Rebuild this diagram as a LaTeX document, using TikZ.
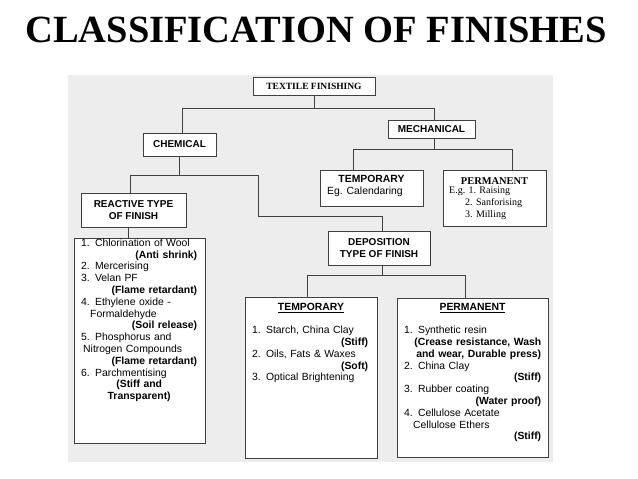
\documentclass[tikz,border=0pt]{standalone}
\usepackage{fontspec}
\setmainfont{Liberation Serif}
\setsansfont{Liberation Sans}
\begin{document}
\begin{tikzpicture}[x=1pt,y=-1pt,
  bx/.style={draw=black!75,line width=0.8pt,fill=white,inner sep=0pt},
  ln/.style={draw=black!75,line width=0.8pt},
  tx/.style={font=\sffamily\fontsize{10.4}{11.8}\selectfont,inner sep=0pt,align=left},
  sx/.style={font=\fontsize{10}{11.8}\selectfont,inner sep=0pt,align=left}]
\useasboundingbox (0,0) rectangle (638,479);
\fill[white] (0,0) rectangle (638,479);
\fill[black!7] (68,75) rectangle (553,462);
\node[font=\bfseries\fontsize{38.5}{40}\selectfont] (title) at (316,30) {CLASSIFICATION OF FINISHES};
% boxes
\node[bx,minimum width=122pt,minimum height=18pt,font=\bfseries\fontsize{9.5}{10}\selectfont] (tf) at (314,86) {TEXTILE FINISHING};
\node[bx,minimum width=73pt,minimum height=23pt,font=\sffamily\bfseries\fontsize{10}{10}\selectfont] (chem) at (179.5,144.5) {CHEMICAL};
\node[bx,minimum width=87pt,minimum height=18pt,font=\sffamily\bfseries\fontsize{10}{10}\selectfont] (mech) at (431.5,129) {MECHANICAL};
\node[bx,minimum width=103pt,minimum height=36pt] (mt) at (371.5,188) {};
\node[bx,minimum width=103pt,minimum height=56pt] (mp) at (494.5,198) {};
\node[bx,minimum width=105pt,minimum height=34pt,font=\sffamily\bfseries\fontsize{10}{12}\selectfont,align=center] (rt) at (133.5,210) {REACTIVE TYPE\\OF FINISH};
\node[bx,minimum width=102pt,minimum height=34pt,font=\sffamily\bfseries\fontsize{10}{12}\selectfont,align=center] (dep) at (379,248) {DEPOSITION\\TYPE OF FINISH};
\node[bx,minimum width=131pt,minimum height=205pt] (rl) at (139.5,340.5) {};
\node[bx,minimum width=132pt,minimum height=161pt] (dt) at (311,377.5) {};
\node[bx,minimum width=151pt,minimum height=159pt] (dp) at (472.5,377.5) {};
% connectors
\draw[ln] (tf.south) -- (314,108) coordinate (j1);
\draw[ln] (182,108) -- (434,108);
\draw[ln] (182,108) -- (chem.north -| 182,0);
\draw[ln] (434,108) -- (mech.north -| 434,0);
\draw[ln] (mech.south -| 434,0) -- (434,149);
\draw[ln] (353,149) -- (512,149);
\draw[ln] (353,149) -- (mt.north -| 353,0);
\draw[ln] (512,149) -- (mp.north -| 512,0);
\draw[ln] (chem.south -| 179,0) -- (179,175);
\draw[ln] (130,175) -- (258,175) -- (258,216) -- (382,216) -- (dep.north -| 382,0);
\draw[ln] (130,175) -- (rt.north -| 130,0);
\draw[ln] (rt.south -| 128,0) -- (rl.north -| 128,0);
\draw[ln] (dep.south -| 382,0) -- (382,275);
\draw[ln] (307,275) -- (465,275);
\draw[ln] (307,275) -- (dt.north -| 307,0);
\draw[ln] (465,275) -- (dp.north -| 465,0);
% mech texts
\node[font=\sffamily\bfseries\fontsize{10.4}{11}\selectfont,inner sep=0pt] (mtt) at (371.5,179) {TEMPORARY};
\node[tx,anchor=west] (mtx) at (327,192) {Eg. Calendaring};
\node[font=\bfseries\fontsize{10.4}{11}\selectfont,inner sep=0pt] (mpt) at (494.5,181) {PERMANENT};
\node[sx,anchor=north west] (mpx) at (449,187) {E.g. 1. Raising\\\hspace*{16pt}2. Sanforising\\\hspace*{16pt}3. Milling};
% reactive list
\node[tx,anchor=north west,text width=116pt] (rlx) at (81,238.5) {1. Chlorination of Wool\\
\mbox{}\hfill\textbf{(Anti shrink)}\\
2. Mercerising\\
3. Velan PF\\
\mbox{}\hfill\textbf{(Flame retardant)}\\
4. Ethylene oxide -\\
\hspace*{9pt}Formaldehyde\\
\mbox{}\hfill\textbf{(Soil release)}\\
5. Phosphorus and\\
\hspace*{2pt}Nitrogen Compounds\\
\mbox{}\hfill\textbf{(Flame retardant)}\\
6. Parchmentising\\
\mbox{}\hfill\textbf{(Stiff and}\hfill\mbox{}\\
\mbox{}\hfill\textbf{Transparent)}\hfill\mbox{}};
% deposition temporary
\node[font=\sffamily\bfseries\fontsize{10.4}{11}\selectfont,inner sep=0pt] (dtt) at (311,308) {\underline{TEMPORARY}};
\node[tx,anchor=north west,text width=116pt] (dtx) at (252,326) {1. Starch, China Clay\\
\mbox{}\hfill\textbf{(Stiff)}\\
2. Oils, Fats \& Waxes\\
\mbox{}\hfill\textbf{(Soft)}\\
3. Optical Brightening};
% deposition permanent
\node[font=\sffamily\bfseries\fontsize{10.4}{11}\selectfont,inner sep=0pt] (dpt) at (472.5,308) {\underline{PERMANENT}};
\node[tx,anchor=north west,text width=137pt] (dpx) at (404,326) {1. Synthetic resin\\
\mbox{}\hfill\textbf{(Crease resistance, Wash}\\
\mbox{}\hfill\textbf{and wear, Durable press)}\\
2. China Clay\\
\mbox{}\hfill\textbf{(Stiff)}\\
3. Rubber coating\\
\mbox{}\hfill\textbf{(Water proof)}\\
4. Cellulose Acetate\\
\hspace*{9pt}Cellulose Ethers\\
\mbox{}\hfill\textbf{(Stiff)}};
\end{tikzpicture}
\end{document}
